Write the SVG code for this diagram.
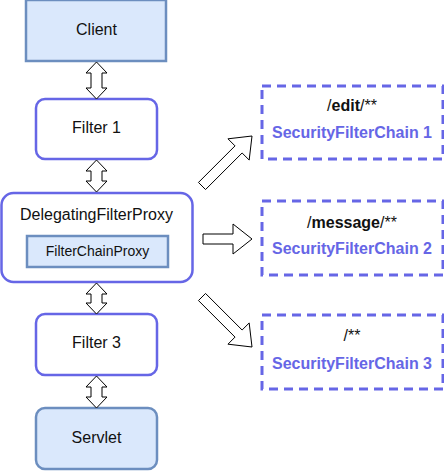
<svg xmlns="http://www.w3.org/2000/svg" width="444" height="471" viewBox="0 0 444 471">
<style>
  .blue { fill: #dae8fc; stroke: #6c8ebf; stroke-width: 2.5; }
  .purple { fill: #ffffff; stroke: #6666e6; stroke-width: 2.5; }
  .dash { fill: #ffffff; stroke: #6666e6; stroke-width: 3; stroke-dasharray: 9 6; }
  .lbl { font-family: "Liberation Sans", Arial, sans-serif; font-size: 16px; fill: #111111; text-anchor: middle; }
  .small { font-size: 14px; }
  .sfc { font-family: "Liberation Sans", Arial, sans-serif; font-size: 16px; font-weight: bold; fill: #6666e6; text-anchor: middle; }
  .arr { fill: #ffffff; stroke: #000000; stroke-width: 1; stroke-linejoin: miter; }
</style>
<rect width="444" height="471" fill="#ffffff"/>
<g id="client"><rect class="blue" x="26" y="0" width="140" height="61"/><text class="lbl" x="96.5" y="35">Client</text></g>
<g id="filter1"><rect class="purple" x="36" y="99" width="121" height="60" rx="9"/><text class="lbl" x="96.5" y="133">Filter 1</text></g>
<g id="delegating"><rect class="purple" x="1.5" y="193" width="191" height="89" rx="12"/><text class="lbl" x="96.5" y="220">DelegatingFilterProxy</text></g>
<g id="filterchainproxy"><rect class="blue" x="27" y="236" width="141" height="31"/><text class="lbl small" x="97.5" y="256">FilterChainProxy</text></g>
<g id="filter3"><rect class="purple" x="36" y="314" width="121" height="61" rx="9"/><text class="lbl" x="96.5" y="348">Filter 3</text></g>
<g id="servlet"><rect class="blue" x="36" y="408" width="121" height="61" rx="9"/><text class="lbl" x="96.5" y="443">Servlet</text></g>
<g id="chain1"><rect class="dash" x="262" y="86" width="181" height="73"/><text class="lbl" x="352" y="111">/<tspan font-weight="bold">edit</tspan>/**</text><text class="sfc" x="352" y="138">SecurityFilterChain 1</text></g>
<g id="chain2"><rect class="dash" x="262" y="201" width="181" height="74"/><text class="lbl" x="352" y="228">/<tspan font-weight="bold">message</tspan>/**</text><text class="sfc" x="352" y="254">SecurityFilterChain 2</text></g>
<g id="chain3"><rect class="dash" x="262" y="315" width="181" height="74"/><text class="lbl" x="352" y="341">/**</text><text class="sfc" x="352" y="369">SecurityFilterChain 3</text></g>
<g id="connectors">
  <polygon class="arr" points="96.5,62 107,73 102,73 102,88 107,88 96.5,99 86,88 91,88 91,73 86,73"/>
  <polygon class="arr" points="96.5,160 107,171 102,171 102,181 107,181 96.5,192 86,181 91,181 91,171 86,171"/>
  <polygon class="arr" points="96.5,283 107,294 102,294 102,303 107,303 96.5,314 86,303 91,303 91,294 86,294"/>
  <polygon class="arr" points="96.5,376 107,387 102,387 102,397 107,397 96.5,408 86,397 91,397 91,387 86,387"/>
  <polygon class="arr" points="198.46,182.46 235.03,145.9 227.96,138.82 252,136 249.18,160.04 242.1,152.97 205.54,189.54"/>
  <polygon class="arr" points="203,234 233,234 233,224 252,239 233,254 233,244 203,244"/>
  <polygon class="arr" points="205.54,293.46 242.1,330.03 249.18,322.96 252,347 227.96,344.18 235.03,337.1 198.46,300.54"/>
</g>
</svg>
